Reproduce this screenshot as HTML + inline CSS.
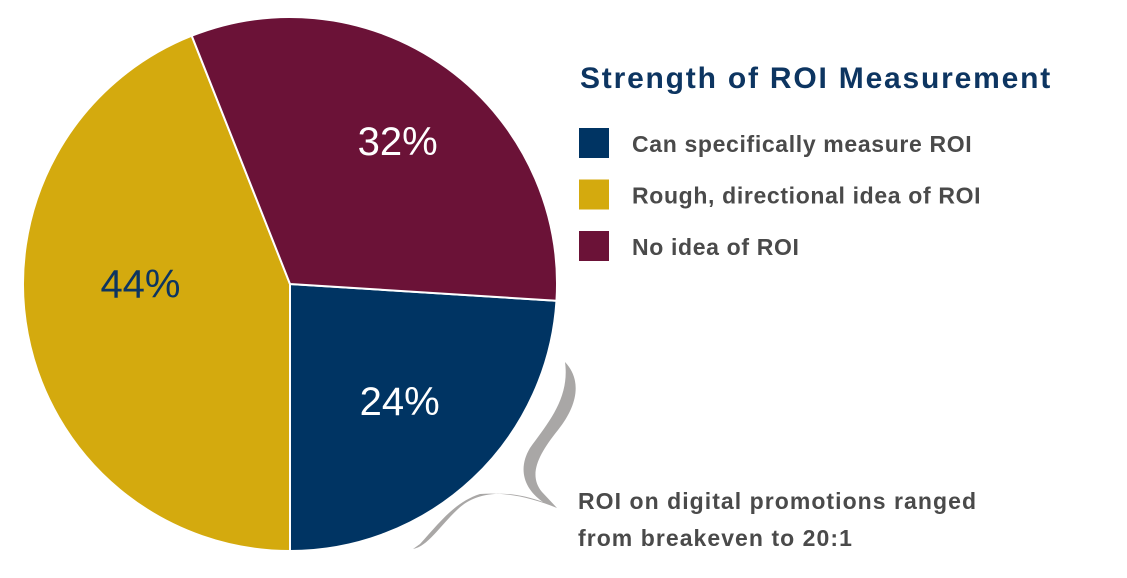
<!DOCTYPE html>
<html><head><meta charset="utf-8"><style>
body{margin:0;background:#fff;width:1127px;height:573px;overflow:hidden;font-family:"Liberation Sans",sans-serif}
</style></head><body>
<svg width="1127" height="573" viewBox="0 0 1127 573">
<g id="pie"></g>
<path fill="#a9a7a6" d="M565,362 C582,380 578,405 558,430 C538,455 528,475 542,492 L557,508 C530,497 505,492 480,494 C455,502 440,522 420,544 L413,549 C428,546 438,528 458,509 C478,490 510,490 543,502 C523,488 518,468 530,448 C548,423 570,398 565,362 Z"/>
<text x="580" y="88" font-size="30" font-weight="bold" letter-spacing="1.8" fill="#0d3561">Strength of ROI Measurement</text>
<g id="legend"></g>
<text font-size="23" font-weight="bold" letter-spacing="1.05" fill="#4a4a4a"><tspan x="578" y="509">ROI on digital promotions ranged</tspan><tspan x="578" y="546">from breakeven to 20:1</tspan></text>
</svg>
<script>
const categories=["Can specifically measure ROI","Rough, directional idea of ROI","No idea of ROI"];
const values=[24,44,32];
const colors=["#003463","#d4aa0e","#6b1237"];
const labelColors=["#ffffff","#0d3561","#ffffff"];
const labelRadius=[0.6,0.56,0.67];
const labelAngleShift=[0,11,1];
const NS="http://www.w3.org/2000/svg";
const cx=290,cy=284,r=267;
const total=values.reduce((a,b)=>a+b,0);
const pie=document.getElementById('pie');
const lg=document.getElementById('legend');
let start=180-values[0]/total*360;
function pt(a,rr){const t=a*Math.PI/180;return [cx+rr*Math.sin(t),cy-rr*Math.cos(t)];}
values.forEach((v,i)=>{
  const sweep=v/total*360,end=start+sweep;
  const p0=pt(start,r),p1=pt(end,r);
  const path=document.createElementNS(NS,'path');
  path.setAttribute('d',`M${cx},${cy} L${p0[0]},${p0[1]} A${r},${r} 0 ${sweep>180?1:0} 1 ${p1[0]},${p1[1]} Z`);
  path.setAttribute('fill',colors[i]);path.setAttribute('stroke','#fff');path.setAttribute('stroke-width','2');
  
  
  pie.appendChild(path);
  const lp=pt(start+sweep/2+labelAngleShift[i],r*labelRadius[i]);
  const t=document.createElementNS(NS,'text');
  t.setAttribute('x',lp[0]);t.setAttribute('y',lp[1]+14);t.setAttribute('text-anchor','middle');
  t.setAttribute('font-size','40');t.setAttribute('fill',labelColors[i]);
  t.textContent=v+'%';
  
  
  pie.appendChild(t);
  start=end;
  const y=128+i*51.5;
  const sq=document.createElementNS(NS,'rect');
  sq.setAttribute('x',579);sq.setAttribute('y',y);sq.setAttribute('width',30);sq.setAttribute('height',30);sq.setAttribute('fill',colors[i]);
  
  
  lg.appendChild(sq);
  const lt=document.createElementNS(NS,'text');
  lt.setAttribute('x',632);lt.setAttribute('y',y+24);lt.setAttribute('font-size','23');lt.setAttribute('font-weight','bold');lt.setAttribute('letter-spacing','0.65');lt.setAttribute('fill','#4a4a4a');
  lt.textContent=categories[i];
  
  
  lg.appendChild(lt);
});
</script>
</body></html>
